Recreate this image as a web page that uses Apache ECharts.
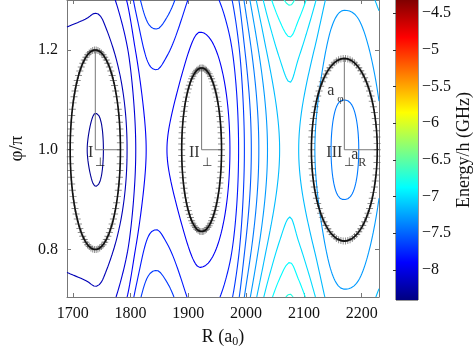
<!DOCTYPE html>
<html>
<head>
<meta charset="utf-8">
<script src="https://cdn.jsdelivr.net/npm/echarts@6/dist/echarts.min.js"></script>
<style>
  html, body { margin: 0; padding: 0; background: #fff; }
  #chart { width: 474px; height: 353px; }
</style>
</head>
<body>
<div id="chart"></div>
<script>
var profileR = [1690, 1725, 1739, 1753, 1794, 1809, 1827, 1845, 1863, 1920, 1972, 1987, 1997, 2009, 2022, 2037, 2058, 2076, 2091, 2119, 2147, 2170, 2195, 2230];
var profileE = [-8.303, -8.32, -8.330, -8.32, -8.19, -8.06, -7.93, -7.902, -7.93, -8.045, -7.93, -7.80, -7.67, -7.54, -7.41, -7.28, -7.15, -7.092, -7.15, -7.28, -7.41, -7.429, -7.41, -7.298];
// angular stiffness (GHz per (phi/pi)^2), estimated from the arch heights
var stiffR = [1690, 1739, 1845, 1920, 2076, 2170, 2230];
var stiffK = [1.87, 1.87, 3.97, 2.07, 3.97, 1.91, 1.91];
// contour levels and colour range
var levels = [-8.32, -8.19, -8.06, -7.93, -7.80, -7.67, -7.54, -7.41, -7.28, -7.15, -7.02, -6.89, -6.76, -6.63];
var cMin = -8.41, cMax = -4.32;
var cbarTicks = [-8, -7.5, -7, -6.5, -6, -5.5, -5, -4.5];
var xTicks = [1700, 1800, 1900, 2000, 2100, 2200];
var yTicks = [0.8, 1.0, 1.2];
// harmonic sizes of the three states
var stateName = ['I', 'II', 'III'];
var stateR = [1739, 1923, 2170];
var stateP = [1.0, 1.0, 1.0];
var stateAR = [43.5, 34.5, 57];
var stateAP = [0.2, 0.164, 0.183];

var rMin = 1690, rMax = 2230, pMin = 0.705, pMax = 1.3;

function monotone(xs, ys) {
  var n = xs.length, d = [], m = [], i;
  for (i = 0; i < n - 1; i++) d.push((ys[i + 1] - ys[i]) / (xs[i + 1] - xs[i]));
  m[0] = d[0]; m[n - 1] = d[n - 2];
  for (i = 1; i < n - 1; i++) m[i] = d[i - 1] * d[i] <= 0 ? 0 : (d[i - 1] + d[i]) / 2;
  for (i = 0; i < n - 1; i++) {
    if (d[i] === 0) { m[i] = 0; m[i + 1] = 0; continue; }
    var a = m[i] / d[i], b = m[i + 1] / d[i], s = a * a + b * b;
    if (s > 9) { var t = 3 / Math.sqrt(s); m[i] = t * a * d[i]; m[i + 1] = t * b * d[i]; }
  }
  return function (x) {
    var k = 0;
    if (x >= xs[n - 1]) k = n - 2; else while (k < n - 2 && xs[k + 1] < x) k++;
    var h = xs[k + 1] - xs[k], t = (x - xs[k]) / h, t2 = t * t, t3 = t2 * t;
    return (2 * t3 - 3 * t2 + 1) * ys[k] + (t3 - 2 * t2 + t) * h * m[k] +
      (-2 * t3 + 3 * t2) * ys[k + 1] + (t3 - t2) * h * m[k + 1];
  };
}

function clamp(v) { return Math.max(0, Math.min(1, v)); }
function jet(v) {
  var t = (v - cMin) / (cMax - cMin);
  var r = clamp(Math.min(4 * t - 1.5, -4 * t + 4.5));
  var g = clamp(Math.min(4 * t - 0.5, -4 * t + 3.5));
  var b = clamp(Math.min(4 * t + 0.5, -4 * t + 2.5));
  return 'rgb(' + Math.round(r * 255) + ',' + Math.round(g * 255) + ',' + Math.round(b * 255) + ')';
}

// sample the surface
var profile = monotone(profileR, profileE);
var stiff = monotone(stiffR, stiffK);
var gR = [], gP = [], Z = [];
for (var i = 0; i <= 360; i++) gR.push(rMin + (rMax - rMin) * i / 360);
for (var j = 0; j <= 240; j++) gP.push(pMin + (pMax - pMin) * j / 240);
var colU = gR.map(profile), colK = gR.map(stiff);
for (j = 0; j < gP.length; j++) {
  var row = [], dp = gP[j] - 1;
  for (i = 0; i < gR.length; i++) row.push(colU[i] + colK[i] * dp * dp);
  Z.push(row);
}

// marching squares, joined into polylines
function traceLevel(level) {
  var pts = {}, segs = [], byKey = {};
  function edge(key, ra, pa, za, rb, pb, zb) {
    if (!pts[key]) {
      var t = (level - za) / (zb - za);
      pts[key] = [ra + t * (rb - ra), pa + t * (pb - pa)];
    }
    return key;
  }
  function seg(a, b) {
    var n = segs.length;
    segs.push([a, b]);
    (byKey[a] = byKey[a] || []).push(n);
    (byKey[b] = byKey[b] || []).push(n);
  }
  for (var j = 0; j < gP.length - 1; j++) {
    for (var i = 0; i < gR.length - 1; i++) {
      var z0 = Z[j][i], z1 = Z[j][i + 1], z2 = Z[j + 1][i + 1], z3 = Z[j + 1][i];
      var b0 = z0 > level, b1 = z1 > level, b2 = z2 > level, b3 = z3 > level;
      var e = [null, null, null, null];
      if (b0 !== b1) e[0] = edge('h' + i + '_' + j, gR[i], gP[j], z0, gR[i + 1], gP[j], z1);
      if (b1 !== b2) e[1] = edge('v' + (i + 1) + '_' + j, gR[i + 1], gP[j], z1, gR[i + 1], gP[j + 1], z2);
      if (b3 !== b2) e[2] = edge('h' + i + '_' + (j + 1), gR[i], gP[j + 1], z3, gR[i + 1], gP[j + 1], z2);
      if (b0 !== b3) e[3] = edge('v' + i + '_' + j, gR[i], gP[j], z0, gR[i], gP[j + 1], z3);
      var c = e.filter(function (k) { return k !== null; });
      if (c.length === 2) seg(c[0], c[1]);
      else if (c.length === 4) {
        var mid = (z0 + z1 + z2 + z3) / 4 > level;
        if (mid === b0) { seg(e[0], e[1]); seg(e[2], e[3]); }
        else { seg(e[0], e[3]); seg(e[1], e[2]); }
      }
    }
  }
  var used = [], lines = [];
  function next(key) {
    var list = byKey[key];
    for (var t = 0; t < list.length; t++) if (!used[list[t]]) return list[t];
    return -1;
  }
  for (var s = 0; s < segs.length; s++) {
    if (used[s]) continue;
    used[s] = true;
    var chain = [segs[s][0], segs[s][1]], closed = false, n, o;
    while ((n = next(chain[chain.length - 1])) >= 0) {
      used[n] = true;
      o = segs[n][0] === chain[chain.length - 1] ? segs[n][1] : segs[n][0];
      chain.push(o);
      if (o === chain[0]) { closed = true; break; }
    }
    if (!closed) {
      while ((n = next(chain[0])) >= 0) {
        used[n] = true;
        o = segs[n][0] === chain[0] ? segs[n][1] : segs[n][0];
        chain.unshift(o);
      }
    }
    lines.push(chain.map(function (k) { return pts[k]; }));
  }
  return lines;
}

var series = [];
levels.forEach(function (lv) {
  traceLevel(lv).forEach(function (line) {
    series.push({
      type: 'line', data: line, showSymbol: false, silent: true, z: 2,
      lineStyle: { color: jet(lv), width: 1.1 }
    });
  });
});

// harmonic ellipses with markers, axes lines and labels
var plusPath = 'path://M0,4.3H10V5.7H0ZM4.3,0H5.7V10H4.3Z';
var serif = 'Liberation Serif';
stateName.forEach(function (name, s) {
  var ring = [], marks = [];
  for (var k = 0; k <= 120; k++) {
    var a = 2 * Math.PI * k / 120;
    ring.push([stateR[s] + stateAR[s] * Math.cos(a), stateP[s] + stateAP[s] * Math.sin(a)]);
  }
  for (k = 0; k < 90; k++) {
    var b = 2 * Math.PI * k / 90;
    marks.push([stateR[s] + stateAR[s] * Math.cos(b), stateP[s] + stateAP[s] * Math.sin(b)]);
  }
  series.push({
    type: 'line', data: [[stateR[s], stateP[s] + stateAP[s]], [stateR[s], stateP[s]], [stateR[s] + stateAR[s], stateP[s]]],
    showSymbol: false, silent: true, z: 3, lineStyle: { color: '#777', width: 1 }
  });
  series.push({
    type: 'scatter', data: marks, symbol: plusPath, symbolSize: 7, silent: true, z: 4,
    itemStyle: { color: 'rgba(70,70,70,0.75)' }
  });
  series.push({
    type: 'line', data: ring, showSymbol: false, silent: true, z: 5,
    lineStyle: { color: '#111', width: 1.6 }
  });
  var lab = [
    { value: [stateR[s], stateP[s]], label: { formatter: name, position: [-2, 3], align: 'right', fontSize: 16 } },
    { value: [stateR[s], stateP[s]], label: { formatter: '\u22a5', position: [0, 13], align: 'left', fontSize: 12 } }
  ];
  if (s === 2) {
    lab.push({ value: [stateR[s], stateP[s] + stateAP[s] * 0.65], label: { formatter: 'a', position: [-10, 0], align: 'right', fontSize: 16 } });
    lab.push({ value: [stateR[s], stateP[s] + stateAP[s] * 0.65], label: { formatter: '\u03c6', position: [-7, 9], align: 'left', fontSize: 11 } });
    lab.push({ value: [stateR[s], stateP[s]], label: { formatter: 'a', position: [7, 5], align: 'left', fontSize: 16 } });
    lab.push({ value: [stateR[s], stateP[s]], label: { formatter: 'R', position: [14, 13], align: 'left', fontSize: 12 } });
  }
  series.push({
    type: 'scatter', data: lab, symbolSize: 0, silent: true, z: 6,
    label: { show: true, verticalAlign: 'middle', color: '#000', fontFamily: serif }
  });
});

// colour bar
var stops = [];
for (var q = 0; q <= 8; q++) stops.push({ offset: q / 8, color: jet(cMin + (cMax - cMin) * q / 8) });
series.push({
  type: 'custom', xAxisIndex: 2, yAxisIndex: 2, silent: true,
  data: [[0, cMin, cMax]],
  renderItem: function (params, api) {
    var lo = api.coord([0, api.value(1)]), hi = api.coord([1, api.value(2)]);
    return {
      type: 'rect',
      shape: { x: lo[0], y: hi[1], width: hi[0] - lo[0], height: lo[1] - hi[1] },
      style: { fill: new echarts.graphic.LinearGradient(0, 1, 0, 0, stops) }
    };
  }
});

var tickFont = { fontFamily: serif, fontSize: 16, color: '#111' };
var frame = { show: true, lineStyle: { color: '#777', width: 1 } };
var chart = echarts.init(document.getElementById('chart'));
chart.setOption({
  animation: false,
  backgroundColor: '#fff',
  textStyle: { fontFamily: serif },
  grid: [
    { left: 52, top: 0, width: 327, height: 298 },
    { left: 396, top: 0, width: 22, height: 300, show: true, borderColor: '#333', borderWidth: 1 }
  ],
  xAxis: [
    {
      type: 'value', gridIndex: 0, min: rMin, max: rMax, position: 'bottom',
      axisLine: frame, splitLine: { show: false },
      axisTick: { inside: true, length: 4, customValues: xTicks, lineStyle: { color: '#777' } },
      axisLabel: Object.assign({ customValues: xTicks, margin: 9, formatter: function (v) { return String(v); } }, tickFont),
      name: 'R (a{s|0})', nameLocation: 'middle', nameGap: 29,
      nameTextStyle: { fontFamily: serif, fontSize: 18, color: '#111', rich: { s: { fontFamily: serif, fontSize: 12, padding: [10, 0, 0, 0] } } }
    },
    {
      type: 'value', gridIndex: 0, min: rMin, max: rMax, position: 'top',
      axisLine: frame, splitLine: { show: false }, axisLabel: { show: false },
      axisTick: { inside: true, length: 4, customValues: xTicks, lineStyle: { color: '#777' } }
    },
    { type: 'value', gridIndex: 1, min: 0, max: 1, show: false }
  ],
  yAxis: [
    {
      type: 'value', gridIndex: 0, min: pMin, max: pMax, position: 'left',
      axisLine: frame, splitLine: { show: false },
      axisTick: { inside: true, length: 4, customValues: yTicks, lineStyle: { color: '#777' } },
      axisLabel: Object.assign({ customValues: yTicks, margin: 9, formatter: function (v) { return v.toFixed(1); } }, tickFont),
      name: '\u03c6/\u03c0', nameLocation: 'middle', nameGap: 40, nameRotate: 90,
      nameTextStyle: { fontFamily: serif, fontSize: 19, color: '#111' }
    },
    {
      type: 'value', gridIndex: 0, min: pMin, max: pMax, position: 'right',
      axisLine: frame, splitLine: { show: false }, axisLabel: { show: false },
      axisTick: { inside: true, length: 4, customValues: yTicks, lineStyle: { color: '#777' } }
    },
    {
      type: 'value', gridIndex: 1, min: cMin, max: cMax, position: 'right',
      axisLine: { show: false }, splitLine: { show: false },
      axisTick: { inside: true, length: 3, customValues: cbarTicks, lineStyle: { color: '#333' } },
      axisLabel: Object.assign({ customValues: cbarTicks, margin: 4, formatter: function (v) { return String(v).replace('-', '\u2212'); } }, tickFont),
      name: 'Energy/h (GHz)', nameLocation: 'middle', nameGap: 37, nameRotate: 90,
      nameTextStyle: { fontFamily: serif, fontSize: 18, color: '#111' }
    }
  ],
  series: series
});
</script>
</body>
</html>
